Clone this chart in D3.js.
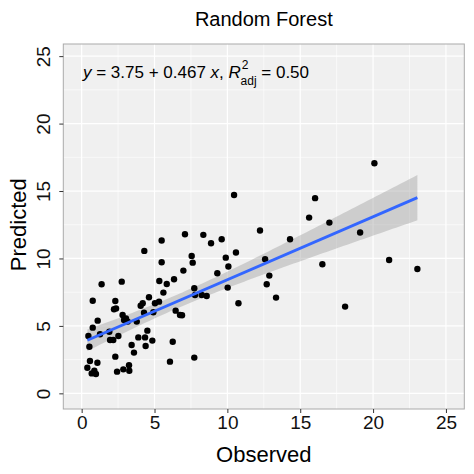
<!DOCTYPE html><html><head><meta charset="utf-8"><script src="https://cdn.jsdelivr.net/npm/d3@7"></script>
<style>body{margin:0;background:#fff}text{font-family:"Liberation Sans",Arial,sans-serif}</style></head><body><svg id="c" width="474" height="474"></svg>
<script>
const observed=[0.39,0.53,0.46,0.57,0.69,0.76,0.76,0.87,0.98,1.08,1.1,1.26,1.37,1.9,1.95,2.17,2.22,2.31,2.36,2.31,2.43,2.52,2.75,2.81,2.86,2.91,3.04,3.16,3.25,3.27,3.43,3.59,3.78,3.89,4.05,4.19,4.28,4.3,4.35,4.39,4.51,4.62,4.85,4.92,5.03,5.31,5.33,5.49,5.49,5.61,5.84,6.06,6.25,6.34,6.45,6.75,6.89,6.98,7.09,7.55,7.62,7.73,7.73,7.78,8.24,8.35,8.58,8.88,9.31,9.61,9.89,10.02,10.07,10.46,10.59,10.76,12.24,12.59,12.7,12.88,13.34,14.3,15.61,16.02,16.52,17.0,18.08,19.11,20.09,21.1,23.04];
const predicted=[1.9,3.46,4.25,2.4,1.48,4.87,6.87,1.68,1.43,2.27,5.39,4.38,8.09,4.57,3.96,3.96,6.23,6.85,6.3,2.72,1.61,4.25,8.28,5.81,1.78,5.44,5.56,5.32,2.08,1.68,3.59,3.02,5.32,4.15,6.5,6.68,5.98,10.56,4.15,3.51,4.65,7.12,3.91,6.01,6.68,6.8,8.33,11.33,9.72,7.47,8.11,2.35,3.83,8.46,6.13,5.81,5.79,9.1,11.8,10.19,9.69,7.79,2.65,7.29,7.29,11.75,7.22,11.13,8.9,11.42,10.06,7.84,9.4,14.71,10.44,6.68,12.07,9.94,8.09,8.73,7.1,11.42,13.03,14.47,9.57,12.66,6.43,11.92,17.06,9.89,9.22];
const ticks=[0,5,10,15,20,25];
const intercept=3.75, slope=0.467;
const svg=d3.select("#c");
const L=63.3,R=464.3,T=44,B=409;
const x=d3.scaleLinear().domain([-1.26,26.26]).range([L,R]);
const y=d3.scaleLinear().domain([-1.16,25.9]).range([B,T]);
svg.append("rect").attr("x",L).attr("y",T).attr("width",R-L).attr("height",B-T).attr("fill","#F0F0F0");
const minor=[2.5,7.5,12.5,17.5,22.5];
const g=svg.append("g");
minor.forEach(v=>{g.append("line").attr("x1",x(v)).attr("x2",x(v)).attr("y1",T).attr("y2",B).attr("stroke","#fff").attr("stroke-width",0.6);
 g.append("line").attr("y1",y(v)).attr("y2",y(v)).attr("x1",L).attr("x2",R).attr("stroke","#fff").attr("stroke-width",0.6);});
ticks.forEach(v=>{g.append("line").attr("x1",x(v)).attr("x2",x(v)).attr("y1",T).attr("y2",B).attr("stroke","#fff").attr("stroke-width",1.2);
 g.append("line").attr("y1",y(v)).attr("y2",y(v)).attr("x1",L).attr("x2",R).attr("stroke","#fff").attr("stroke-width",1.2);});
const n=observed.length,mx=d3.mean(observed),my=d3.mean(predicted);
let sxx=0,sxy=0;observed.forEach((v,i)=>{sxx+=(v-mx)**2;sxy+=(v-mx)*(predicted[i]-my)});
const b=sxy/sxx,a=my-b*mx;
let sse=0;observed.forEach((v,i)=>{sse+=(predicted[i]-a-b*v)**2});
const s=Math.sqrt(sse/(n-2)),tq=1.987;
const x0=d3.min(observed),x1=d3.max(observed);
const xs=d3.range(0,81).map(i=>x0+(x1-x0)*i/80);
const band=xs.map(v=>{const f=intercept+slope*v,se=s*Math.sqrt(1/n+(v-mx)**2/sxx);return{v,lo:f-tq*se,hi:f+tq*se}});
svg.append("path").datum(band).attr("fill","#999").attr("opacity",0.4)
 .attr("d",d3.area().x(d=>x(d.v)).y0(d=>y(d.lo)).y1(d=>y(d.hi)));
svg.append("g").selectAll("circle").data(observed).join("circle").attr("cx",d=>x(d)).attr("cy",(d,i)=>y(predicted[i])).attr("r",3.2).attr("fill","#000");
svg.append("line").attr("x1",x(x0)).attr("y1",y(intercept+slope*x0)).attr("x2",x(x1)).attr("y2",y(intercept+slope*x1)).attr("stroke","#3366FF").attr("stroke-width",2.8);
svg.append("rect").attr("x",L).attr("y",T).attr("width",R-L).attr("height",B-T).attr("fill","none").attr("stroke","#aaa").attr("stroke-width",1);
const ax=svg.append("g").attr("transform",`translate(0,${B})`).call(d3.axisBottom(x).tickValues(ticks).tickSize(4).tickPadding(3));
const ay=svg.append("g").attr("transform",`translate(${L},0)`).call(d3.axisLeft(y).tickValues(ticks).tickSize(4).tickPadding(4));
[ax,ay].forEach(a=>{a.select(".domain").remove();a.selectAll("line").attr("stroke","#333");a.selectAll("text").attr("font-size",19).attr("fill","#111").style("font-family","Liberation Sans, Arial")});
ay.selectAll(".tick text").attr("text-anchor","middle").attr("dy",0).attr("transform","rotate(-90)").attr("x",0).attr("y",-13);
svg.append("text").attr("x",x(12.5)).attr("y",26).attr("text-anchor","middle").attr("font-size",20).text("Random Forest");
svg.append("text").attr("x",x(12.5)).attr("y",462).attr("text-anchor","middle").attr("font-size",22).text("Observed");
svg.append("text").attr("transform",`translate(26,${y(12.5)}) rotate(-90)`).attr("text-anchor","middle").attr("font-size",22).text("Predicted");
const eq=svg.append("text").attr("x",83).attr("y",78).attr("font-size",17);
eq.append("tspan").attr("font-style","italic").text("y");
eq.append("tspan").text(" = 3.75 + 0.467 ");
eq.append("tspan").attr("font-style","italic").text("x");
eq.append("tspan").text(", ");
eq.append("tspan").attr("font-style","italic").text("R");
eq.append("tspan").attr("font-size",12).attr("dy",-9).attr("dx",1).text("2");
eq.append("tspan").attr("font-size",12).attr("dy",16).attr("dx",-8).text("adj");
eq.append("tspan").attr("dy",-7).text(" = 0.50");
</script></body></html>
